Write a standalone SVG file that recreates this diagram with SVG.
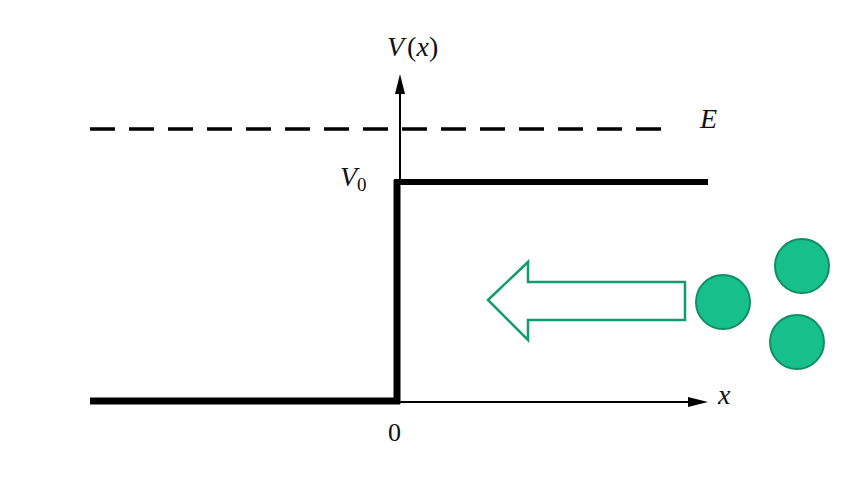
<svg xmlns="http://www.w3.org/2000/svg" width="844" height="479" viewBox="0 0 844 479">
<style>
.t{font-family:"Liberation Serif",serif;font-style:italic;font-size:28px;fill:#111}
.n{font-family:"Liberation Serif",serif;font-size:26px;fill:#111}
.ball{fill:#17c08a;stroke:#0f8f63;stroke-width:2}
</style>
<rect width="844" height="479" fill="#fff"/>
<g id="connectors" stroke="#000" fill="none">
<line x1="90" y1="129" x2="668" y2="129" stroke-width="3.5" stroke-dasharray="25,14"/>
<line x1="400" y1="182" x2="400" y2="88" stroke-width="2"/>
<polygon points="400,74 395,94 405,94" fill="#000" stroke="none"/>
<line x1="397" y1="180" x2="397" y2="404" stroke-width="7"/>
<line x1="394" y1="182" x2="708" y2="182" stroke-width="6"/>
<line x1="90" y1="401" x2="400" y2="401" stroke-width="7"/>
<line x1="400" y1="402" x2="690" y2="402" stroke-width="2"/>
<polygon points="708,402 688,397 688,407" fill="#000" stroke="none"/>
</g>
<g id="arrow"><polygon points="488,300 528,262 528,282 685,282 685,320 528,320 528,340" fill="#fff" stroke="#119c70" stroke-width="2.5"/></g>
<g id="ball1"><circle class="ball" cx="723" cy="302" r="27"/></g>
<g id="ball2"><circle class="ball" cx="802" cy="266" r="27"/></g>
<g id="ball3"><circle class="ball" cx="797" cy="342" r="27"/></g>
<g id="labels">
<text class="t" x="387" y="56">V<tspan font-style="normal" dx="3">(</tspan><tspan>x</tspan><tspan font-style="normal">)</tspan></text>
<text class="t" x="700" y="128">E</text>
<text class="t" x="340" y="186">V<tspan font-style="normal" font-size="19" dy="5">0</tspan></text>
<text class="t" x="718" y="404">x</text>
<text class="n" x="388" y="441">0</text>
</g>
</svg>
